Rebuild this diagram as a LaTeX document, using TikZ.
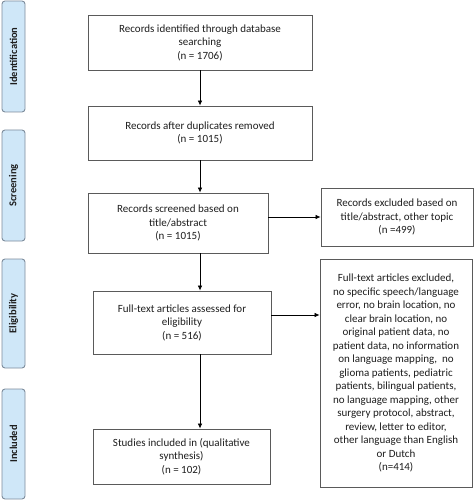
\documentclass[tikz,border=0pt]{standalone}
\usepackage{fontspec}
\setmainfont{Carlito}
\usetikzlibrary{arrows.meta}
\definecolor{sidefill}{HTML}{CFE7F8}
\definecolor{sideline}{HTML}{7D8C9C}
\definecolor{boxline}{HTML}{5A5A5A}
\definecolor{txt}{HTML}{1E1E1E}
\tikzset{
  flowbox/.style={draw=boxline, line width=0.9pt, fill=white, align=center, inner sep=2pt,
    font=\fontsize{11}{13.5}\selectfont, text=txt},
  sidebox/.style={draw=sideline, line width=0.9pt, fill=sidefill, rounded corners=3pt,
    minimum width=23pt, text=txt, font=\fontsize{10.5}{12}\selectfont\bfseries},
  arr/.style={draw=black, line width=0.7pt, -{Latex[length=5pt,width=4.5pt]}}
}
\begin{document}
\begin{tikzpicture}[x=1pt,y=-1pt]
\useasboundingbox (0,0) rectangle (474,502);
% side labels
\node[sidebox, minimum height=111pt] (s1) at (13.5,56.5) {\rotatebox{90}{Identification}};
\node[sidebox, minimum height=111pt] (s2) at (13.5,185.5) {\rotatebox{90}{Screening}};
\node[sidebox, minimum height=109pt] (s3) at (13.5,313.5) {\rotatebox{90}{Eligibility}};
\node[sidebox, minimum height=110pt] (s4) at (13.5,444) {\rotatebox{90}{Included}};
% main boxes
\node[flowbox, minimum width=224pt, minimum height=55pt] (b1) at (200,42.5)
  {Records identified through database\\searching\\(n = 1706)};
\node[flowbox, minimum width=224pt, minimum height=54pt] (b2) at (200,133)
  {Records after duplicates removed\\(n = 1015)};
\node[flowbox, minimum width=180pt, minimum height=60pt] (b3) at (178,223)
  {Records screened based on\\title/abstract\\(n = 1015)};
\node[flowbox, minimum width=178pt, minimum height=63pt] (b4) at (182,322.5)
  {Full-text articles assessed for\\eligibility\\(n = 516)};
\node[flowbox, minimum width=177pt, minimum height=55pt] (b5) at (181.5,456.5)
  {Studies included in (qualitative\\synthesis)\\(n = 102)};
\node[flowbox, minimum width=152pt, minimum height=58pt] (e1) at (397,217)
  {Records excluded based on\\title/abstract, other topic\\(n =499)};
\node[flowbox, minimum width=152pt, minimum height=228pt] (e2) at (396,373)
  {Full-text articles excluded,\\no specific speech/language\\error, no brain location, no\\clear brain location, no\\original patient data, no\\patient data, no information\\on language mapping,\ \ no\\glioma patients, pediatric\\patients, bilingual patients,\\no language mapping, other\\surgery protocol, abstract,\\review, letter to editor,\\other language than English\\or Dutch\\(n=414)};
% connectors
\draw[arr] (b1.south) -- (b2.north);
\draw[arr] (b2.south) -- (b2.south |- b3.north);
\draw[arr] (b2.south |- b3.south) -- (b2.south |- b4.north);
\draw[arr] (b2.south |- b4.south) -- (b2.south |- b5.north);
\draw[arr] (b3.east |- e1.west) -- (e1.west);
\draw[arr] (b4.east |- 0,315) -- (e2.west |- 0,315);
\end{tikzpicture}
\end{document}
